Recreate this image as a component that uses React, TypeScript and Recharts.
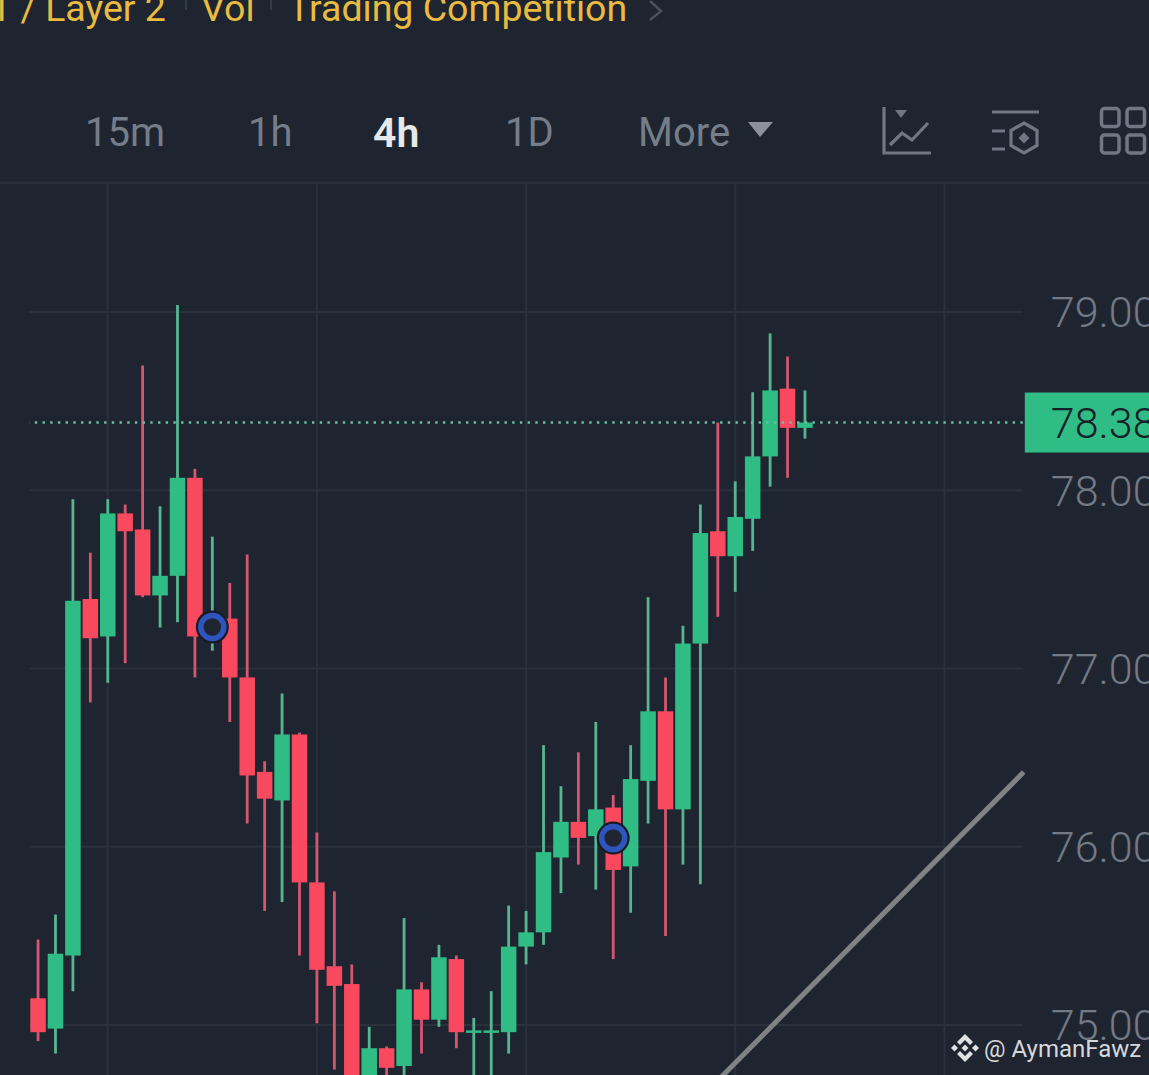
import React from 'react';
import { ComposedChart, Bar, XAxis, YAxis, CartesianGrid, ReferenceLine, ReferenceDot } from 'recharts';

const opens = [75.15, 74.98, 75.39, 77.39, 77.18, 77.87, 77.78, 77.41, 77.52, 78.07, 77.18, 77.28, 76.95, 76.42, 76.26, 76.63, 75.80, 75.33, 75.23, 74.64, 74.87, 74.77, 75.20, 75.03, 75.37, 74.96, 74.96, 74.96, 75.44, 75.52, 75.94, 76.14, 76.06, 76.22, 75.89, 76.37, 76.76, 76.21, 77.14, 77.77, 77.63, 77.84, 78.19, 78.57, 78.35];
const highs = [75.48, 75.62, 77.95, 77.65, 77.95, 77.92, 78.70, 77.91, 79.04, 78.12, 77.74, 77.48, 77.64, 76.48, 76.86, 76.64, 76.08, 75.75, 75.34, 74.99, 74.88, 75.60, 75.24, 75.45, 75.39, 75.04, 75.19, 75.67, 75.64, 76.57, 76.34, 76.53, 76.70, 76.29, 76.57, 77.40, 76.95, 77.24, 77.92, 78.38, 78.05, 78.55, 78.88, 78.75, 78.56];
const lows = [74.91, 74.84, 75.19, 76.81, 76.92, 77.03, 77.40, 77.23, 77.26, 76.95, 77.10, 76.70, 76.13, 75.64, 75.69, 75.39, 75.01, 74.75, 74.50, 74.58, 74.66, 74.66, 74.84, 74.99, 74.87, 74.64, 74.64, 74.84, 75.34, 75.45, 75.74, 75.90, 75.76, 75.37, 75.63, 76.13, 75.50, 75.90, 75.79, 77.29, 77.43, 77.66, 78.02, 78.07, 78.29];
const closes = [74.96, 75.40, 77.38, 77.17, 77.87, 77.77, 77.41, 77.52, 78.07, 77.18, 77.28, 76.95, 76.40, 76.27, 76.63, 75.80, 75.31, 75.22, 74.58, 74.87, 74.76, 75.20, 75.03, 75.38, 74.96, 74.97, 74.97, 75.44, 75.52, 75.97, 76.14, 76.05, 76.21, 75.87, 76.38, 76.76, 76.21, 77.14, 77.76, 77.63, 77.85, 78.19, 78.56, 78.35, 78.38];

const priceTicks = [75, 76, 77, 78, 79];
const gridSlots = [4, 16, 28, 40, 52];
const lastPrice = 78.38;
const markerSlots = [10, 33];
const markerPrices = [77.233, 76.049];
const trendSlots = [35.93, 56.05];
const trendPrices = [74.4, 76.419];
const tabs = ['15m', '1h', '4h', '1D', 'More'];
const tabLeft = [85, 248, 373, 505, 638];

const BG = '#1f2530';
const GREEN = '#30bd85';
const RED = '#f8495f';
const GRID = '#2b313b';
const TICK = '#727a86';
const GOLD = '#e9bb3f';
const FONT = 'Roboto, sans-serif';
const SLOT_COUNT = 57;

const chartData = Array.from({ length: SLOT_COUNT }, (_, i) =>
    i < opens.length
        ? { slot: i, open: opens[i], close: closes[i], high: highs[i], low: lows[i], range: [lows[i], highs[i]] }
        : { slot: i, range: null }
);

// Whole candle is drawn from the high-low rect the Bar hands us
const Candle = (props: any) => {
    const { x, y, width, height, payload } = props;
    if (!payload || payload.range == null) return null;
    const { open, close, high, low } = payload;
    const up = close >= open;
    const perUnit = Math.abs(height) / (high - low);
    const top = y + (high - Math.max(open, close)) * perUnit;
    const bodyH = Math.max(Math.abs(open - close) * perUnit, 2.5);
    const cx = x + width / 2;
    return (
        <g>
            <line x1={cx} x2={cx} y1={y} y2={y + Math.abs(height)} stroke={up ? '#57b692' : '#d4566f'} strokeWidth={2.8} />
            <rect x={x} y={top} width={width} height={bodyH} fill={up ? GREEN : RED} />
        </g>
    );
};

const Marker = (props: any) => (
    <g>
        <circle cx={props.cx} cy={props.cy} r={16.5} fill="#161b24" />
        <circle cx={props.cx} cy={props.cy} r={11.5} fill={BG} stroke="#2e54bd" strokeWidth={5.5} />
    </g>
);

const PriceTag = (props: any) => {
    const { x, y, width } = props.viewBox;
    return (
        <g>
            <rect x={x + width + 2} y={y - 30} width={126} height={60} fill={GREEN} />
            <text x={x + width + 28} y={y + 15.5} fontFamily={FONT} fontWeight={300} fontSize={43} fill="#16202a">
                {lastPrice.toFixed(2)}
            </text>
        </g>
    );
};

const Toolbar = () => (
    <>
        <div style={{ position: 'absolute', left: -10, top: -14, fontFamily: FONT, fontSize: 37.5, color: GOLD, whiteSpace: 'nowrap' }}>
            1 / Layer 2
        </div>
        <div style={{ position: 'absolute', left: 201, top: -14, fontFamily: FONT, fontSize: 37.5, color: GOLD }}>Vol</div>
        <div style={{ position: 'absolute', left: 288, top: -14, fontFamily: FONT, fontSize: 37.5, color: GOLD, whiteSpace: 'nowrap' }}>
            Trading Competition
        </div>
        {tabs.map((t, i) => (
            <div
                key={t}
                style={{
                    position: 'absolute',
                    left: tabLeft[i],
                    top: 110,
                    fontFamily: FONT,
                    fontSize: t === '4h' ? 41 : 40,
                    lineHeight: '46px',
                    fontWeight: t === '4h' ? 600 : 400,
                    color: t === '4h' ? '#e6e8ea' : '#757d89',
                }}
            >
                {t}
            </div>
        ))}
        <svg width={1149} height={184} style={{ position: 'absolute', left: 0, top: 0 }}>
            <path d="M650 1 L661 11 L650 20" fill="none" stroke="#4a515c" strokeWidth={2.5} />
            <path d="M186 0 V10 M271 0 V10" stroke="#343b46" strokeWidth={2} />
            <path d="M748 122 H773 L760 137 Z" fill="#8b929c" />
            <g fill="none" stroke="#6f7785" strokeWidth={3.2}>
                <path d="M884 107 V153 H931" />
                <path d="M890 145 L902 133 L912 140 L928 123" />
                <path d="M992 112 H1039 M992 131 H1005 M992 149 H1005" />
                <path d="M1024 123 L1037 130.5 V145.5 L1024 153 L1011 145.5 V130.5 Z" />
                <rect x={1101.5} y={108.5} width={17.5} height={18} rx={3} strokeWidth={3.5} />
                <rect x={1127} y={108.5} width={17.5} height={18} rx={3} strokeWidth={3.5} />
                <rect x={1101.5} y={135} width={17.5} height={18} rx={3} strokeWidth={3.5} />
                <rect x={1127} y={135} width={17.5} height={18} rx={3} strokeWidth={3.5} />
            </g>
            <path d="M895 110 H907 L901 118 Z" fill="#6f7785" />
            <path d="M1024 132.5 L1029.5 138 L1024 143.5 L1018.5 138 Z" fill="#6f7785" />
            <path d="M0 183 H1149" stroke="#2a303a" strokeWidth={3} />
        </svg>
    </>
);

const Watermark = () => (
    <>
        <svg width={30} height={30} style={{ position: 'absolute', left: 950, top: 1034 }}>
            <g fill="#dfe1e4" transform="translate(15 14)">
                <path d="M0 -14 L8 -6 L5 -3 L0 -8 L-5 -3 L-8 -6 Z" />
                <path d="M0 14 L8 6 L5 3 L0 8 L-5 3 L-8 6 Z" />
                <path d="M-14 0 L-10.5 -3.5 L-7 0 L-10.5 3.5 Z" />
                <path d="M14 0 L10.5 -3.5 L7 0 L10.5 3.5 Z" />
                <path d="M0 -3.5 L3.5 0 L0 3.5 L-3.5 0 Z" />
            </g>
        </svg>
        <div style={{ position: 'absolute', left: 984, top: 1034, fontFamily: FONT, fontSize: 24, lineHeight: '30px', color: '#d5d8dc', whiteSpace: 'nowrap' }}>
            @ AymanFawz
        </div>
    </>
);

export default function App() {
    return (
        <div style={{ position: 'absolute', left: 0, top: 0, width: 1149, height: 1075, overflow: 'hidden', background: BG }}>
            <Toolbar />
            <div style={{ position: 'absolute', left: 0, top: 0 }}>
                <ComposedChart
                    width={1149}
                    height={1132}
                    data={chartData}
                    barCategoryGap={0}
                    margin={{ top: 183, right: 0, bottom: 0, left: 29.3 }}
                >
                    <CartesianGrid xAxisId="time" stroke={GRID} strokeWidth={2} syncWithTicks />
                    <XAxis xAxisId="time" dataKey="slot" type="category" hide ticks={gridSlots} interval={0} />
                    <XAxis xAxisId="trend" type="number" domain={[-0.5, 56.5]} hide allowDataOverflow />
                    <YAxis
                        orientation="right"
                        width={126.2}
                        domain={[74.4, 79.7237]}
                        ticks={priceTicks}
                        interval={0}
                        axisLine={false}
                        tickLine={false}
                        tickSize={0}
                        tickMargin={28}
                        tickFormatter={(v: number) => v.toFixed(2)}
                        tick={{ fill: TICK, fontFamily: FONT, fontWeight: 300, fontSize: 43, textAnchor: 'start' }}
                    />
                    <ReferenceLine
                        xAxisId="trend"
                        ifOverflow="visible"
                        stroke="#808285"
                        strokeWidth={5}
                        segment={[
                            { x: trendSlots[0], y: trendPrices[0] },
                            { x: trendSlots[1], y: trendPrices[1] },
                        ]}
                    />
                    <Bar xAxisId="time" dataKey="range" barSize={15.5} isAnimationActive={false} shape={<Candle />} />
                    <ReferenceLine
                        xAxisId="time"
                        y={lastPrice}
                        stroke="#6abda2"
                        strokeWidth={2.4}
                        strokeDasharray="2.4 5.3"
                        label={<PriceTag />}
                    />
                    {markerSlots.map((s, i) => (
                        <ReferenceDot key={s} xAxisId="time" x={s} y={markerPrices[i]} shape={<Marker />} />
                    ))}
                </ComposedChart>
            </div>
            <Watermark />
        </div>
    );
}
